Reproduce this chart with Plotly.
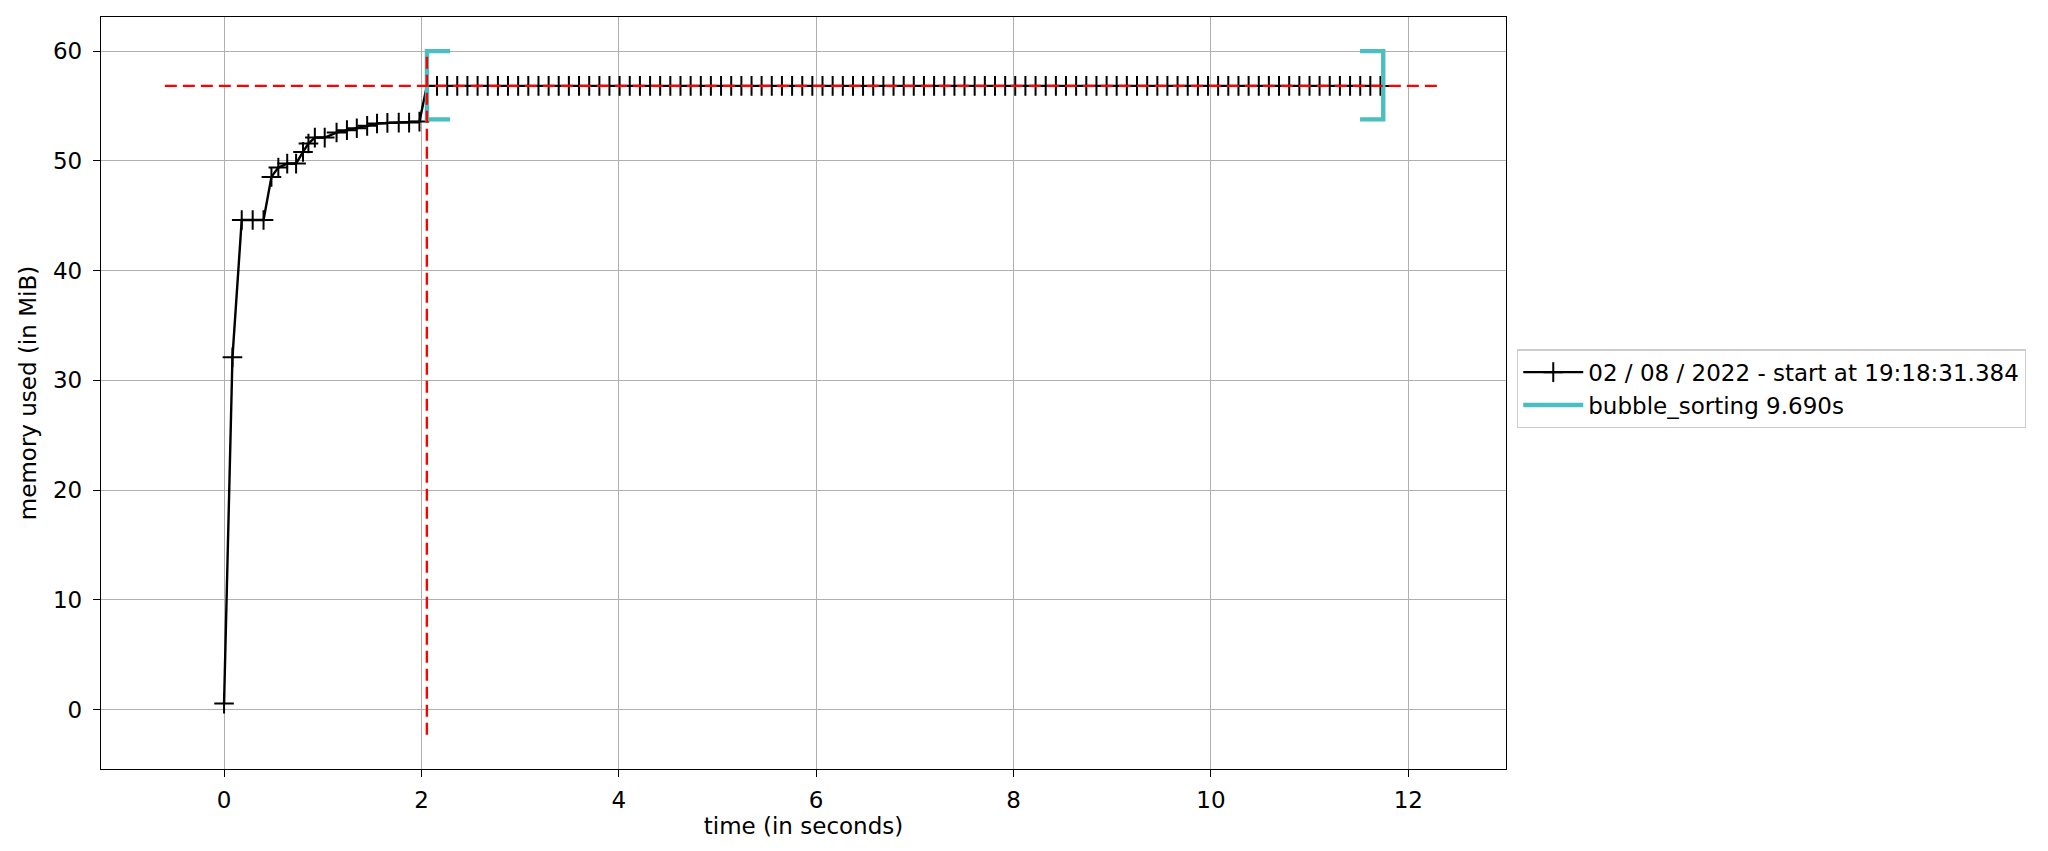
"""Memory usage over time (mprof style) recreated with plotly."""

import plotly.graph_objects as go

# sampled memory usage
time_s = [
    0.0, 0.085, 0.179, 0.29, 0.40, 0.48, 0.55, 0.64, 0.73, 0.80, 0.855, 0.92,
    1.02, 1.14, 1.245, 1.345, 1.45, 1.55, 1.655, 1.77, 1.875, 1.98, 2.055,
    2.158, 2.261, 2.363, 2.466, 2.569, 2.672, 2.775, 2.877, 2.980, 3.083,
    3.186, 3.289, 3.391, 3.494, 3.597, 3.700, 3.803, 3.905, 4.008, 4.111,
    4.214, 4.317, 4.419, 4.522, 4.625, 4.728, 4.831, 4.933, 5.036, 5.139,
    5.242, 5.345, 5.447, 5.550, 5.653, 5.756, 5.859, 5.961, 6.064, 6.167,
    6.270, 6.373, 6.475, 6.578, 6.681, 6.784, 6.887, 6.989, 7.092, 7.195,
    7.298, 7.401, 7.503, 7.606, 7.709, 7.812, 7.915, 8.017, 8.120, 8.223,
    8.326, 8.429, 8.531, 8.634, 8.737, 8.840, 8.943, 9.045, 9.148, 9.251,
    9.354, 9.457, 9.559, 9.662, 9.765, 9.868, 9.971, 10.073, 10.176, 10.279,
    10.382, 10.485, 10.587, 10.690, 10.793, 10.896, 10.999, 11.101, 11.204,
    11.307, 11.410, 11.513, 11.615, 11.718,
]
mem_mib = [
    0.55, 32.1, 44.62, 44.62, 44.62, 48.54, 49.39, 49.75, 49.75, 50.82, 51.58,
    52.12, 52.12, 52.58, 52.80, 52.98, 53.19, 53.40, 53.46, 53.49, 53.49, 53.58,
    56.83,
    56.83, 56.83, 56.83, 56.83, 56.83, 56.83, 56.83, 56.83, 56.83, 56.83,
    56.83, 56.83, 56.83, 56.83, 56.83, 56.83, 56.83, 56.83, 56.83, 56.83,
    56.83, 56.83, 56.83, 56.83, 56.83, 56.83, 56.83, 56.83, 56.83, 56.83,
    56.83, 56.83, 56.83, 56.83, 56.83, 56.83, 56.83, 56.83, 56.83, 56.83,
    56.83, 56.83, 56.83, 56.83, 56.83, 56.83, 56.83, 56.83, 56.83, 56.83,
    56.83, 56.83, 56.83, 56.83, 56.83, 56.83, 56.83, 56.83, 56.83, 56.83,
    56.83, 56.83, 56.83, 56.83, 56.83, 56.83, 56.83, 56.83, 56.83, 56.83,
    56.83, 56.83, 56.83, 56.83, 56.83, 56.83, 56.83, 56.83, 56.83, 56.83,
    56.83, 56.83, 56.83, 56.83, 56.83, 56.83, 56.83, 56.83, 56.83, 56.83,
    56.83, 56.83, 56.83, 56.83,
]
run_label = "02 / 08 / 2022 - start at 19:18:31.384"

# function timestamps (bubble_sorting)
func_label = "bubble_sorting 9.690s"
func_start, func_end = 2.056, 11.746
func_mem = 56.89
bracket_half = 3.11
bracket_arm = 0.235

# max memory marker lines
max_mem = 56.83
max_mem_time = 2.055
hline_x = [-0.60, 12.35]
vline_y = [-2.30, 59.70]

FONT = "DejaVu Sans"
FS = 23
RED = "#ff0000"
CYAN = "#4bbfc0"


def main():
    fig = go.Figure()

    fig.add_trace(go.Scatter(
        x=time_s, y=mem_mib, mode="lines+markers", name=run_label,
        line=dict(color="black", width=2.4),
        marker=dict(symbol="cross-thin", size=14, line=dict(color="black", width=2)),
    ))

    bx = [func_start + bracket_arm, func_start, func_start, func_start + bracket_arm]
    by = [func_mem + bracket_half, func_mem + bracket_half,
          func_mem - bracket_half, func_mem - bracket_half]
    fig.add_trace(go.Scatter(
        x=bx, y=by, mode="lines", name=func_label,
        line=dict(color=CYAN, width=4.4),
    ))
    ex = [func_end - bracket_arm, func_end, func_end, func_end - bracket_arm]
    fig.add_trace(go.Scatter(
        x=ex, y=by, mode="lines", showlegend=False,
        line=dict(color=CYAN, width=4.4),
    ))

    fig.add_trace(go.Scatter(
        x=hline_x, y=[max_mem, max_mem], mode="lines", showlegend=False,
        line=dict(color=RED, width=2.4, dash="12px,6px"),
    ))
    fig.add_trace(go.Scatter(
        x=[max_mem_time, max_mem_time], y=vline_y, mode="lines", showlegend=False,
        line=dict(color=RED, width=2.4, dash="12px,6px"),
    ))

    axis_common = dict(
        showline=True, mirror=True, linecolor="black", linewidth=1.3,
        showgrid=True, gridcolor="#b0b0b0", gridwidth=1.3,
        zeroline=False, ticks="outside", ticklen=7, tickwidth=1.3,
        tickcolor="black", tickfont=dict(family=FONT, size=FS, color="black"),
    )
    fig.update_xaxes(
        range=[-1.247, 12.99], tick0=0, dtick=2, ticklabelstandoff=3,
        title=dict(text="time (in seconds)", font=dict(family=FONT, size=FS, color="black"),
                   standoff=6),
        **axis_common,
    )
    fig.update_yaxes(
        range=[-5.41, 63.11], tick0=0, dtick=10, ticklabelstandoff=6,
        title=dict(text="memory used (in MiB)", font=dict(family=FONT, size=FS, color="black"),
                   standoff=9),
        **axis_common,
    )

    # the page body adds an 8px margin, so the figure is 8px smaller
    fig.update_layout(
        width=2040, height=843,
        margin=dict(l=93, r=542, t=9, b=82, autoexpand=False),
        plot_bgcolor="white", paper_bgcolor="white",
        font=dict(family=FONT, size=FS, color="black"),
        legend=dict(
            x=1.0078, y=0.558, xanchor="left", yanchor="top",
            bgcolor="white", bordercolor="#cccccc", borderwidth=1.3,
            font=dict(family=FONT, size=FS, color="black"),
            itemwidth=60, tracegroupgap=0,
        ),
    )

    fig.write_html("out.html")


if __name__ == "__main__":
    main()
